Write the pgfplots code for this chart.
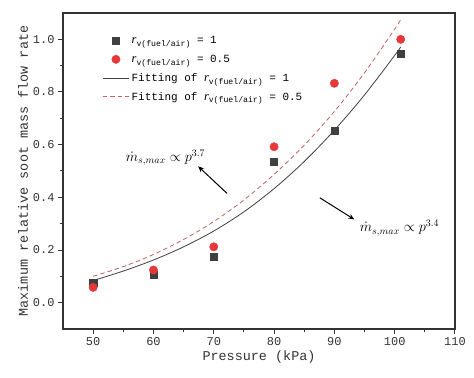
\documentclass[border=0pt]{standalone}
\usepackage{pgfplots}
\pgfplotsset{compat=1.18}
\usepackage{fontspec}
\setmainfont{Liberation Mono}
\newfontfamily\serifit{Liberation Serif}[ItalicFont={* Italic}]
\usetikzlibrary{arrows.meta}

\definecolor{axisgray}{HTML}{333333}
\definecolor{sqgray}{HTML}{404040}
\definecolor{dotred}{HTML}{E5383B}
\definecolor{fitred}{HTML}{C06262}

% legend images: marks centred over a 0.94cm slot, lines spanning it
\pgfplotsset{
  slot mark legend/.style={legend image code/.code={\draw[mark repeat=2, mark phase=2, ##1] plot coordinates {(0cm,0cm) (0.47cm,0cm) (0.94cm,0cm)};}},
  slot line legend/.style={legend image code/.code={\draw[##1] (0cm,0cm) -- (0.94cm,0cm);}},
}

% r_v(fuel/air) symbol used in the legend
\newcommand\rv{{\serifit\itshape\fontsize{12.5}{12}\selectfont r}\raisebox{-0.5ex}{\fontsize{8.2}{8}\selectfont v(fuel/air)}}

\pgfplotstableread{
p    r1     r05
50   0.077  0.058
60   0.105  0.124
70   0.175  0.212
80   0.534  0.592
90   0.654  0.833
101  0.947  1.000
}\measured

\pgfplotstableread{
p    fit1   fit05
50   0.084  0.100
55   0.120  0.137
60   0.162  0.183
65   0.212  0.240
70   0.272  0.308
75   0.345  0.390
80   0.433  0.487
85   0.536  0.598
90   0.655  0.726
95   0.789  0.873
100  0.939  1.039
101  0.971  1.075
}\fitted

\begin{document}
\begin{tikzpicture}
\begin{axis}[
  width=392bp, height=316bp, scale only axis,
  xmin=45, xmax=110, ymin=-0.1, ymax=1.1,
  xtick={50,60,...,110},
  ytick={0,0.2,...,1.0},
  minor x tick num=1, minor y tick num=1,
  tick pos=left, tick align=outside,
  major tick length=5bp, minor tick length=3bp,
  axis line style={axisgray, line width=1.1bp},
  every tick/.style={axisgray, line width=1bp},
  /pgf/number format/assume math mode=true,
  tick label style={font=\fontsize{12}{14}\selectfont, text=axisgray},
  yticklabel style={/pgf/number format/fixed, /pgf/number format/fixed zerofill, /pgf/number format/precision=1},
  xlabel={Pressure (kPa)},
  ylabel={Maximum relative soot mass flow rate},
  label style={font=\fontsize{13.5}{15}\selectfont, text=axisgray},
  xlabel style={yshift=2bp},
  ylabel style={yshift=-2bp},
  legend style={at={(rel axis cs:0.097,0.935)}, anchor=north west, draw=none, fill=none,
    font=\fontsize{11}{12}\selectfont, row sep=5.5bp, inner sep=1bp},
  legend cell align=left,
  clip=false,
]
\coordinate (bl) at (rel axis cs:0,0);
\coordinate (tr) at (rel axis cs:1,1);

\addplot[only marks, mark=square*, mark size=3.6pt, sqgray, mark options={fill=sqgray, draw=sqgray}, slot mark legend]
  table[x=p, y=r1] {\measured};
\addlegendentry{\rv\ = 1}

\addplot[only marks, mark=*, mark size=4.2pt, dotred, mark options={fill=dotred, draw=dotred}, slot mark legend]
  table[x=p, y=r05] {\measured};
\addlegendentry{\rv\ = 0.5}

\addplot[sqgray, line width=0.8bp, smooth, no marks, slot line legend]
  table[x=p, y=fit1] {\fitted};
\addlegendentry{Fitting of \rv\ = 1}

\addplot[fitred, line width=0.8bp, dash pattern=on 4.5bp off 3bp, smooth, no marks, slot line legend]
  table[x=p, y=fit05] {\fitted};
\addlegendentry{Fitting of \rv\ = 0.5}

% exponent annotations
\node[font=\Large] at (axis cs:62,0.55) {$\dot{m}_{s,max} \propto p^{3.7}$};
\draw[-{Stealth[length=6bp,width=5bp]}, line width=1bp] (axis cs:72.2,0.415) -- (axis cs:67.4,0.518);
\node[font=\Large] at (axis cs:100.8,0.283) {$\dot{m}_{s,max} \propto p^{3.4}$};
\draw[-{Stealth[length=6bp,width=5bp]}, line width=1bp] (axis cs:87.6,0.398) -- (axis cs:93.3,0.316);
\end{axis}
\pgfresetboundingbox
\path[use as bounding box] ([shift={(-63bp,-49bp)}]bl) rectangle ([shift={(19bp,13bp)}]tr);
\end{tikzpicture}
\end{document}
